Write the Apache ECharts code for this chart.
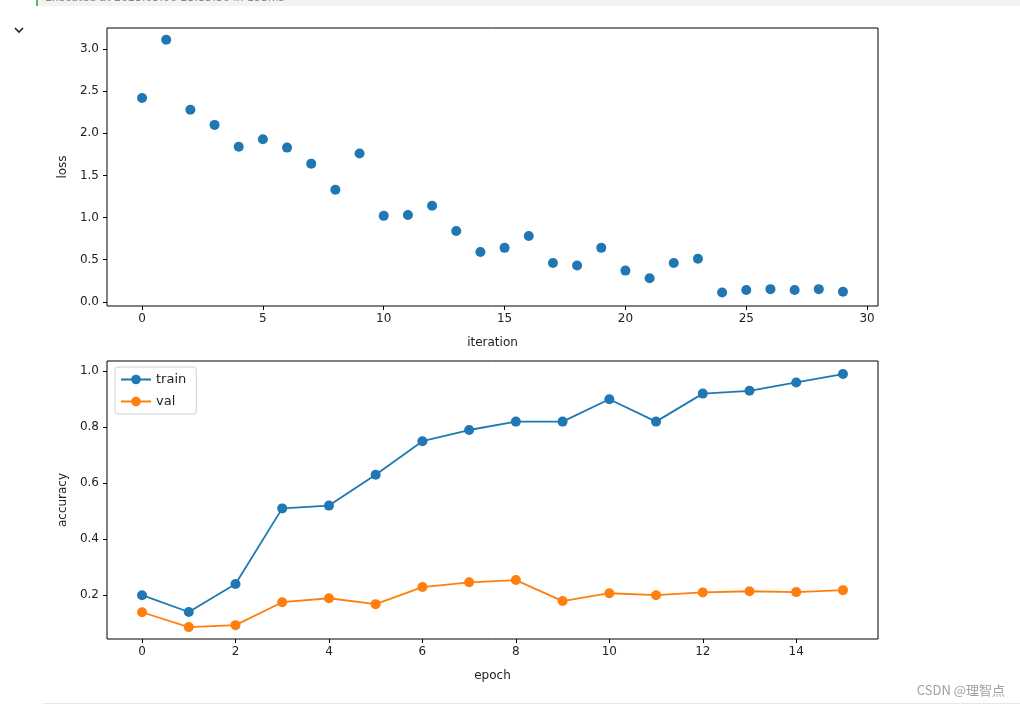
<!DOCTYPE html>
<html>
<head>
<meta charset="utf-8">
<script src="https://cdn.jsdelivr.net/npm/echarts@6/dist/echarts.min.js"></script>
<style>html,body{margin:0;padding:0;background:#fff;}#c{width:1020px;height:710px;}</style>
</head>
<body>
<div id="c"></div>
<script>
// ---- data ----
const iterations = [0,1,2,3,4,5,6,7,8,9,10,11,12,13,14,15,16,17,18,19,20,21,22,23,24,25,26,27,28,29];
const lossValues = [2.42,3.11,2.28,2.10,1.84,1.93,1.83,1.64,1.33,1.76,1.02,1.03,1.14,0.84,0.59,0.64,0.78,0.46,0.43,0.64,0.37,0.28,0.46,0.51,0.11,0.14,0.15,0.14,0.15,0.12];
const epochs = [0,1,2,3,4,5,6,7,8,9,10,11,12,13,14,15];
const trainAcc = [0.20,0.14,0.24,0.51,0.52,0.63,0.75,0.79,0.82,0.82,0.90,0.82,0.92,0.93,0.96,0.99];
const valAcc = [0.139,0.086,0.093,0.175,0.189,0.168,0.229,0.246,0.254,0.179,0.207,0.200,0.210,0.214,0.211,0.218];
const lossXTicks = [0,5,10,15,20,25,30];
const lossYTicks = [0.0,0.5,1.0,1.5,2.0,2.5,3.0];
const accXTicks = [0,2,4,6,8,10,12,14];
const accYTicks = [0.2,0.4,0.6,0.8,1.0];

const blue = '#1f77b4', orange = '#ff7f0e';
const font = 'DejaVu Sans';
const labelStyle = {color:'#222', fontSize:12, fontFamily:font};

function xAx(grid, min, max, ticks, name){
  return {type:'value', gridIndex:grid, min:min, max:max,
    name:name, nameLocation:'middle', nameGap:31,
    nameTextStyle:{color:'#222', fontSize:12, fontFamily:font},
    axisLine:{show:false, onZero:false}, splitLine:{show:false},
    axisTick:{show:true, length:4, lineStyle:{color:'#000'}, customValues:ticks},
    axisLabel:Object.assign({margin:7, customValues:ticks, formatter:v=>String(v)}, labelStyle)};
}
function yAx(grid, min, max, ticks, name, dec){
  return {type:'value', gridIndex:grid, min:min, max:max,
    name:name, nameLocation:'middle', nameGap:38,
    nameTextStyle:{color:'#222', fontSize:12, fontFamily:font},
    axisLine:{show:false, onZero:false}, splitLine:{show:false},
    axisTick:{show:true, length:4, lineStyle:{color:'#000'}, customValues:ticks},
    axisLabel:Object.assign({margin:8, customValues:ticks, formatter:v=>v.toFixed(dec)}, labelStyle)};
}

const chart = echarts.init(document.getElementById('c'), null, {renderer:'canvas'});
chart.setOption({
  backgroundColor:'#fff',
  animation:false,
  grid:[
    {left:107, top:28, width:771, height:278, show:true, borderColor:'#000', borderWidth:1, backgroundColor:'transparent'},
    {left:107, top:361, width:771, height:278, show:true, borderColor:'#000', borderWidth:1, backgroundColor:'transparent'}
  ],
  xAxis:[ xAx(0,-1.45,30.45,lossXTicks,'iteration'), xAx(1,-0.75,15.75,accXTicks,'epoch') ],
  yAxis:[ yAx(0,-0.05,3.25,lossYTicks,'loss',1), yAx(1,0.0435,1.0365,accYTicks,'accuracy',1) ],
  legend:{
    left:115, top:367, orient:'vertical', itemGap:9,
    padding:[6,10,6,5], borderColor:'#d0d0d0', borderWidth:1, borderRadius:3,
    backgroundColor:'#fff', itemWidth:30, itemHeight:12,
    textStyle:{color:'#222', fontSize:13, fontFamily:font},
    data:['train','val']
  },
  series:[
    {type:'scatter', name:'loss', xAxisIndex:0, yAxisIndex:0, symbolSize:10,
     itemStyle:{color:blue, opacity:1}, data:iterations.map((x,i)=>[x,lossValues[i]])},
    {type:'line', name:'train', xAxisIndex:1, yAxisIndex:1, symbol:'circle', symbolSize:10,
     showAllSymbol:true, lineStyle:{color:blue, width:1.8}, itemStyle:{color:blue},
     data:epochs.map((x,i)=>[x,trainAcc[i]])},
    {type:'line', name:'val', xAxisIndex:1, yAxisIndex:1, symbol:'circle', symbolSize:10,
     showAllSymbol:true, lineStyle:{color:orange, width:1.8}, itemStyle:{color:orange},
     data:epochs.map((x,i)=>[x,valAcc[i]])}
  ],
  graphic:[
    {type:'rect', shape:{x:36, y:0, width:984, height:6}, style:{fill:'#f3f3f3'}, silent:true},
    {type:'rect', shape:{x:36, y:0, width:2, height:6}, style:{fill:'#5cb85c'}, silent:true},
    {type:'text', left:45, top:-7, style:{text:'Executed at 2023.05.06 23:35:30 in 193ms', fill:'#8a8a8a', fontSize:11, fontFamily:font}, silent:true},
    {type:'polyline', shape:{points:[[15,28],[19,32],[23,28]]}, style:{stroke:'#222', lineWidth:1.6, fill:null}, silent:true},
    {type:'rect', shape:{x:43, y:703, width:977, height:1}, style:{fill:'#e6e6e6'}, silent:true},
    {type:'text', right:15, top:684, style:{text:'CSDN @理智点', fill:'#a0a0a0', fontSize:13, fontFamily:'Noto Sans CJK SC'}, silent:true}
  ]
});
</script>
</body>
</html>
